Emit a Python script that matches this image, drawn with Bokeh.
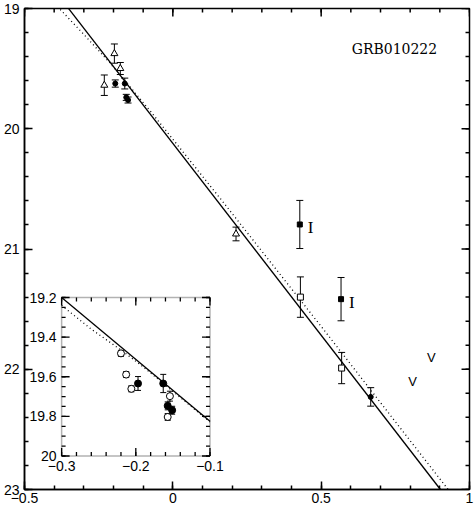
import numpy as np
from bokeh.plotting import figure
from bokeh.models import (Range1d, FixedTicker, ColumnDataSource, Whisker,
                          TeeHead, BoxAnnotation, LabelSet, Label)
from bokeh.core.properties import value
from bokeh.embed import file_html
from bokeh.resources import INLINE

# ---------------- main panel data ----------------
tri_x = [-0.231, -0.197, -0.177, 0.213]
tri_y = [19.638, 19.375, 19.499, 20.875]
tri_e = [0.085, 0.080, 0.050, 0.057]

dot_x = [-0.194, -0.162, -0.157, -0.151, 0.667]
dot_y = [19.624, 19.624, 19.739, 19.761, 22.230]
dot_e = [0.030, 0.045, 0.025, 0.025, 0.077]

fsq_x = [0.428, 0.567]
fsq_y = [20.796, 21.417]
fsq_e = [0.200, 0.180]
fsq_lab = ["I", "I"]

osq_x = [0.430, 0.569]
osq_y = [21.400, 21.990]
osq_e = [0.168, 0.130]

lim_x = [0.808, 0.871]
lim_y = [22.10, 21.90]
lim_lab = ["V", "V"]

fit_x = [-0.364, 0.902]
fit_y = [18.96, 23.00]
ext_x = [-0.398, -0.304, -0.212, -0.073, 0.167, 0.508, 0.928]
ext_y = [18.96, 19.205, 19.452, 19.862, 20.602, 21.669, 23.00]

main_xlim = (-0.5, 1.0)
main_ylim = (19.0, 23.0)
main_xticks = [-0.5, 0.0, 0.5, 1.0]
main_xlabels = ["\u22120.5", "0", "0.5", "1"]
main_yticks = [19, 20, 21, 22, 23]
main_ylabels = ["19", "20", "21", "22", "23"]

# ---------------- inset data ----------------
in_oc_x = [-0.220, -0.213, -0.206, -0.154, -0.157]
in_oc_y = [19.482, 19.589, 19.661, 19.698, 19.803]
in_oc_e = [0.015, 0.015, 0.015, 0.025, 0.017]

in_fc_x = [-0.197, -0.163, -0.157, -0.151]
in_fc_y = [19.634, 19.634, 19.747, 19.769]
in_fc_e = [0.035, 0.046, 0.020, 0.020]

in_fit_x = [-0.3, -0.1]
in_fit_y = [19.200, 19.825]
in_ext_x = [-0.30, -0.26, -0.22, -0.19, -0.10]
in_ext_y = [19.240, 19.360, 19.465, 19.550, 19.828]

in_xticks = [-0.3, -0.2, -0.1]
in_xlabels = ["\u22120.3", "\u22120.2", "\u22120.1"]
in_yticks = [19.2, 19.4, 19.6, 19.8, 20.0]
in_ylabels = ["19.2", "19.4", "19.6", "19.8", "20"]
in_xlim = (-0.3, -0.1)
in_ylim = (19.2, 20.0)

# ---------------- layout constants (pixels, canvas coords) ----------------
W, H = 474, 508
FX0, FX1 = 22, 469
FY0, FY1 = 8, 489
IX0, IX1 = 59.3, 208.3
IY0, IY1 = 297.0, 455.5

TICKFONT = "Liberation Sans"

p = figure(width=W, height=H, x_range=Range1d(*main_xlim),
           y_range=Range1d(main_ylim[1], main_ylim[0]),
           output_backend="svg", toolbar_location=None,
           min_border_left=FX0, min_border_right=W - FX1, min_border_top=FY0,
           min_border_bottom=H - FY1)
p.grid.visible = False
p.outline_line_color = "black"
p.outline_line_width = 1.5
p.background_fill_color = "white"
p.border_fill_color = "white"

p.xaxis.ticker = FixedTicker(ticks=main_xticks,
                             minor_ticks=list(np.round(np.arange(-0.5, 1.0001, 0.1), 3)))
p.yaxis.ticker = FixedTicker(ticks=main_yticks,
                             minor_ticks=list(np.round(np.arange(19, 23.0001, 0.2), 3)))
p.xaxis.major_label_overrides = {t: s for t, s in zip(main_xticks, main_xlabels)}
p.yaxis.major_label_overrides = {t: s for t, s in zip(main_yticks, main_ylabels)}
for ax in p.axis:
    ax.major_tick_in = 8
    ax.major_tick_out = 0
    ax.minor_tick_in = 4
    ax.minor_tick_out = 0
    ax.major_label_text_font = TICKFONT
    ax.major_label_text_font_size = "14px"
    ax.major_label_text_color = "black"
    ax.axis_line_color = "black"
    ax.axis_line_width = 1.5
    ax.major_tick_line_color = "black"
    ax.major_tick_line_width = 1.5
    ax.minor_tick_line_color = "black"
    ax.minor_tick_line_width = 1.5
p.xaxis.major_label_standoff = 3
p.yaxis.major_label_standoff = 5

# top and right ticks of the main frame (inward)
mx_per = (FX1 - FX0) / (main_xlim[1] - main_xlim[0])
my_per = (FY1 - FY0) / (main_ylim[1] - main_ylim[0])
mx_minor = [round(v, 3) for v in np.arange(-0.5, 1.0001, 0.1)]
my_minor = [round(v, 3) for v in np.arange(19, 23.0001, 0.2)]
for xs, L in ((main_xticks, 8), (mx_minor, 4)):
    n = len(xs)
    p.segment(x0=xs, x1=xs, y0=[main_ylim[0]] * n, y1=[main_ylim[0] + L / my_per] * n,
              line_color="black", line_width=1.5)
for ys, L in ((main_yticks, 8), (my_minor, 4)):
    n = len(ys)
    p.segment(x0=[main_xlim[1]] * n, x1=[main_xlim[1] - L / mx_per] * n, y0=ys, y1=ys,
              line_color="black", line_width=1.5)

# ---------------- inset ranges ----------------
ix_per = (IX1 - IX0) / (in_xlim[1] - in_xlim[0])
iy_per = (IY1 - IY0) / (in_ylim[1] - in_ylim[0])
p.extra_x_ranges = {"ix": Range1d(in_xlim[0] - (IX0 - FX0) / ix_per,
                                  in_xlim[1] + (FX1 - IX1) / ix_per)}
p.extra_y_ranges = {"iy": Range1d(start=in_ylim[1] + (FY1 - IY1) / iy_per,
                                  end=in_ylim[0] - (IY0 - FY0) / iy_per)}
IR = dict(x_range_name="ix", y_range_name="iy")

p.add_layout(BoxAnnotation(left=in_xlim[0], right=in_xlim[1], top=in_ylim[0], bottom=in_ylim[1],
                           fill_color="white", fill_alpha=1.0, line_color="black",
                           line_width=1.5, level="underlay", **IR))


def errbars(x, y, e, cap, **kw):
    src = ColumnDataSource(dict(x=x, lo=[a - b for a, b in zip(y, e)],
                                hi=[a + b for a, b in zip(y, e)]))
    w = Whisker(base="x", lower="lo", upper="hi", source=src, dimension="height",
                line_color="black", line_width=1,
                lower_head=TeeHead(size=cap, line_color="black", line_width=1),
                upper_head=TeeHead(size=cap, line_color="black", line_width=1),
                level="underlay", **kw)
    p.add_layout(w)


# ---------------- main plot glyphs ----------------
p.line(fit_x, fit_y, line_color="black", line_width=1.3)
p.line(ext_x, ext_y, line_color="black", line_width=1.3, line_dash="1 3")

errbars(tri_x, tri_y, tri_e, 7)
errbars(dot_x, dot_y, dot_e, 7)
errbars(fsq_x, fsq_y, fsq_e, 7)
errbars(osq_x, osq_y, osq_e, 7)

p.scatter(tri_x, tri_y, marker="triangle", size=7, line_color="black", fill_color="white",
          line_width=1)
p.scatter(dot_x, dot_y, marker="circle", size=5, line_color="black", fill_color="black")
p.scatter(fsq_x, fsq_y, marker="square", size=5, line_color="black", fill_color="black")
p.scatter(osq_x, osq_y, marker="square", size=6, line_color="black", fill_color="white",
          line_width=1)

p.add_layout(LabelSet(x="x", y="y", text="t",
                      source=ColumnDataSource(dict(x=fsq_x, y=fsq_y, t=fsq_lab)),
                      x_offset=8, y_offset=-3, text_align="left", text_baseline="middle",
                      text_font=value("Liberation Serif"), text_font_size="17px",
                      text_color="black"))
p.text(x="x", y="y", text="t", source=ColumnDataSource(dict(x=lim_x, y=lim_y, t=lim_lab)),
       text_align="center", text_baseline="middle", text_font=value("Liberation Sans"),
       text_font_size="13px", text_color="black")

p.add_layout(Label(x=0.603, y=19.405, text="GRB010222", text_font="DejaVu Serif",
                   text_font_size="14px", text_baseline="bottom", text_color="black"))

# ---------------- inset glyphs ----------------
p.line(in_fit_x, in_fit_y, line_color="black", line_width=1.3, **IR)
p.line(in_ext_x, in_ext_y, line_color="black", line_width=1.3, line_dash="1 3", **IR)

errbars(in_oc_x, in_oc_y, in_oc_e, 6, **IR)
errbars(in_fc_x, in_fc_y, in_fc_e, 6, **IR)
p.scatter(in_oc_x, in_oc_y, marker="circle", size=7, line_color="black", fill_color="white",
          line_width=1, **IR)
p.scatter(in_fc_x, in_fc_y, marker="circle", size=7, line_color="black", fill_color="black",
          **IR)

# inset ticks (inward), majors and minors on all four sides
in_xminor = [round(v, 3) for v in np.arange(-0.3, -0.0999, 0.02)]
in_yminor = [round(v, 3) for v in np.arange(19.2, 20.0001, 0.05)]
for xs, L in ((in_xticks, 8), (in_xminor, 4)):
    dy = L / iy_per
    n = len(xs)
    p.segment(x0=xs, x1=xs, y0=[in_ylim[1]] * n, y1=[in_ylim[1] - dy] * n,
              line_color="black", line_width=1.3, **IR)
    p.segment(x0=xs, x1=xs, y0=[in_ylim[0]] * n, y1=[in_ylim[0] + dy] * n,
              line_color="black", line_width=1.3, **IR)
for ys, L in ((in_yticks, 8), (in_yminor, 4)):
    dx = L / ix_per
    n = len(ys)
    p.segment(x0=[in_xlim[0]] * n, x1=[in_xlim[0] + dx] * n, y0=ys, y1=ys,
              line_color="black", line_width=1.3, **IR)
    p.segment(x0=[in_xlim[1]] * n, x1=[in_xlim[1] - dx] * n, y0=ys, y1=ys,
              line_color="black", line_width=1.3, **IR)

p.add_layout(LabelSet(x="x", y="y", text="t",
                      source=ColumnDataSource(dict(x=in_xticks, y=[in_ylim[1]] * len(in_xticks),
                                                   t=in_xlabels)),
                      text_align="center", text_baseline="top", y_offset=-5,
                      text_font=value(TICKFONT), text_font_size="14px", text_color="black", **IR))
p.add_layout(LabelSet(x="x", y="y", text="t",
                      source=ColumnDataSource(dict(x=[in_xlim[0]] * len(in_yticks), y=in_yticks,
                                                   t=in_ylabels)),
                      text_align="right", text_baseline="middle", x_offset=-5,
                      text_font=value(TICKFONT), text_font_size="14px", text_color="black", **IR))

open("out.html", "w").write(file_html(p, INLINE))
